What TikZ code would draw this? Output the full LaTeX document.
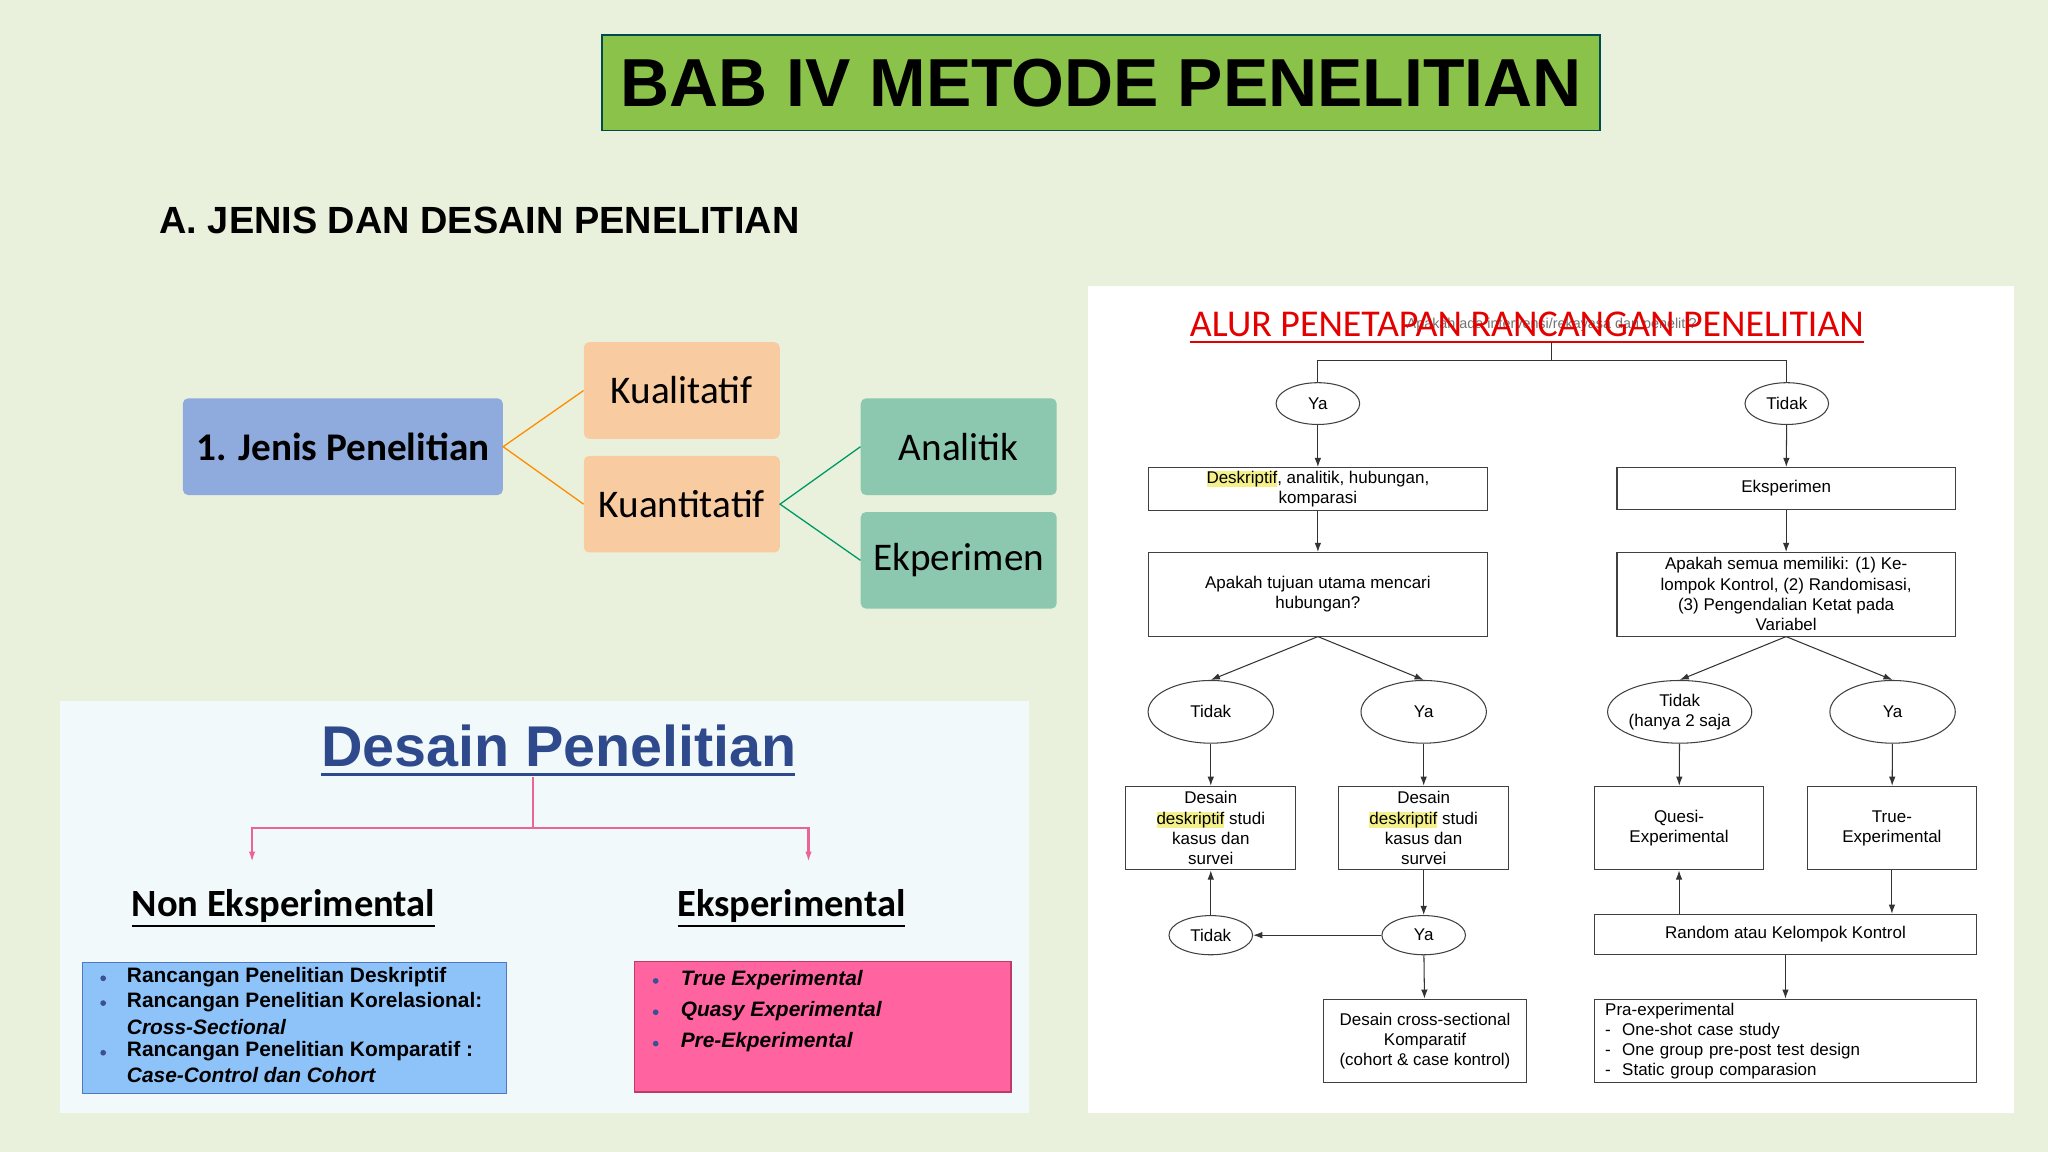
\documentclass[tikz,border=0pt]{standalone}
\usepackage{fontspec}
\setmainfont{Liberation Sans}
\newfontfamily\calib{Carlito}
\usetikzlibrary{arrows.meta,shapes.geometric}
\definecolor{bg}{HTML}{E9F1DC}
\definecolor{hly}{HTML}{F4F08A}
\definecolor{ttlg}{RGB}{139,195,74}
\definecolor{jpc}{RGB}{143,170,220}
\definecolor{orc}{RGB}{248,203,160}
\definecolor{grc}{RGB}{140,200,176}
\definecolor{dpbg}{RGB}{242,249,250}
\definecolor{navy}{RGB}{46,74,140}
\definecolor{pinkl}{RGB}{235,100,150}
\definecolor{bbd}{RGB}{80,120,190}
\definecolor{bbf}{RGB}{142,195,249}
\definecolor{pbd}{RGB}{190,60,100}
\definecolor{pbf}{RGB}{255,100,160}
\definecolor{bul}{RGB}{60,80,150}
\newcommand{\hly}[1]{{\setlength{\fboxsep}{0pt}\colorbox{hly}{#1}}}
\tikzset{
 fbox/.style={draw=black!75, line width=0.8pt, fill=white, align=center, font=\fontsize{13}{15.5}\selectfont, inner sep=1pt},
 fell/.style={ellipse, draw=black!75, line width=0.8pt, fill=white, align=center, font=\fontsize{13}{15.5}\selectfont, inner sep=0pt},
 farr/.style={draw=black!80, line width=0.8pt, -{Latex[length=7pt,width=5pt]}},
 fln/.style={draw=black!80, line width=0.8pt},
 cbox/.style={rounded corners=4pt, align=center, inner sep=0pt, font=\calib\fontsize{30}{34}\selectfont},
}
\begin{document}
\begin{tikzpicture}[x=1pt,y=-1pt]
\useasboundingbox (0,0) rectangle (1568,882);
\fill[bg] (0,0) rectangle (1568,882);
% title
\node[draw=teal!60!black, line width=1.2pt, fill=ttlg, minimum width=764pt, minimum height=73pt, font=\bfseries\fontsize{52}{56}\selectfont, inner sep=0pt] (title) at (843,63.5) {BAB IV METODE PENELITIAN};
\node[anchor=west, font=\bfseries\fontsize{29}{32}\selectfont, inner sep=0pt] (sub) at (122,169) {A. JENIS DAN DESAIN PENELITIAN};
% jenis
\node[cbox, fill=jpc, minimum width=245pt, minimum height=74pt, font=\calib\bfseries\fontsize{30}{34}\selectfont] (jp) at (262.5,342) {1. Jenis Penelitian};
\node[cbox, fill=orc, minimum width=150pt, minimum height=74pt] (kl) at (522,299) {Kualitatif};
\node[cbox, fill=orc, minimum width=150pt, minimum height=74pt] (kn) at (522,386) {Kuantitatif};
\node[cbox, fill=grc, minimum width=150pt, minimum height=74pt] (an) at (734,342) {Analitik};
\node[cbox, fill=grc, minimum width=150pt, minimum height=74pt] (ek) at (734,429) {Ekperimen};
\draw[orange!90!yellow, line width=1pt] (kl.west) -- (jp.east) -- (kn.west);
\draw[teal!80!green, line width=1pt] (an.west) -- (kn.east) -- (ek.west);
% desain panel
\fill[dpbg] (46,537) rectangle (788,852);
\node[font=\bfseries\fontsize{44}{48}\selectfont, text=navy, inner sep=1pt] (dp) at (428,571) {Desain Penelitian};
\draw[navy, line width=2.5pt] (246,593) -- (609,593);
\coordinate (dpa) at (408,595);
\coordinate (dpb) at (408,634);
\coordinate (dpl) at (193,634);
\coordinate (dpr) at (619,634);
\coordinate (dpl2) at (193,660);
\coordinate (dpr2) at (619,660);
\draw[pinkl, line width=2pt] (dpa) -- (dpb);
\draw[pinkl, line width=2pt, -{Latex[length=8pt,width=5pt]}] (dpb) -- (dpl) -- (dpl2);
\draw[pinkl, line width=2pt, -{Latex[length=8pt,width=5pt]}] (dpb) -- (dpr) -- (dpr2);
\node[font=\calib\bfseries\fontsize{29.5}{32}\selectfont, inner sep=1pt] (ne) at (217,694) {Non Eksperimental};
\draw[line width=1.5pt] (101,709) -- (333,709);
\node[font=\calib\bfseries\fontsize{29.5}{32}\selectfont, inner sep=1pt] (ex) at (606,694) {Eksperimental};
\draw[line width=1.5pt] (519,709) -- (693,709);
\node[draw=bbd, line width=1pt, fill=bbf, minimum width=325pt, minimum height=100pt] (bb) at (225.5,787) {};
\node[draw=pbd, line width=1pt, fill=pbf, minimum width=288pt, minimum height=100pt] (pb) at (630,786) {};
\begin{scope}[every node/.style={anchor=west, font=\bfseries\fontsize{16}{18}\selectfont, inner sep=0pt}]
\node (b1) at (97,748) {Rancangan Penelitian Deskriptif};
\node (b2) at (97,767) {Rancangan Penelitian Korelasional:};
\node (b3) at (97,786) {\itshape Cross-Sectional};
\node (b4) at (97,805) {Rancangan Penelitian Komparatif :};
\node (b5) at (97,823) {\itshape Case-Control dan Cohort};
\node (p1) at (521,750) {\itshape True Experimental};
\node (p2) at (521,774) {\itshape Quasy Experimental};
\node (p3) at (521,798) {\itshape Pre-Ekperimental};
\end{scope}
\foreach \y in {749,768,806}{\fill[bul] (79,\y) circle (2.2pt);}
\foreach \y in {751,775,799}{\fill[bul] (502,\y) circle (2.2pt);}
% flow panel
\fill[white] (833,219) rectangle (1542,852);
\node[font=\fontsize{11}{13}\selectfont, text=black!55] (q0) at (1188,249) {Apakah ada intervensi/rekayasa dari peneliti?};
\node[font=\calib\fontsize{29}{32}\selectfont, text=red!90!black, inner sep=1pt] (at) at (1169,248) {ALUR PENETAPAN RANCANGAN PENELITIAN};
\draw[red!90!black, line width=1.5pt] (911,262) -- (1427,262);
\coordinate (c0) at (1188,262);
\coordinate (c1) at (1188,276);
\coordinate (cl) at (1009,276);
\coordinate (cr) at (1368,276);
\node[fell, minimum width=64pt, minimum height=32pt] (ya1) at (1009,309) {Ya};
\node[fell, minimum width=64pt, minimum height=32pt] (td1) at (1368,309) {Tidak};
\draw[fln] (c0) -- (c1);
\draw[fln] (cl) -- (cr);
\draw[fln] (cl) -- (ya1.north);
\draw[fln] (cr) -- (td1.north);
\node[fbox, minimum width=260pt, minimum height=33pt] (d1) at (1009,374.5) {\hly{Deskriptif}, analitik, hubungan,\\komparasi};
\node[fbox, minimum width=259pt, minimum height=32pt] (e1) at (1367.5,374) {Eksperimen};
\node[fbox, minimum width=260pt, minimum height=64pt] (d2) at (1009,455) {Apakah tujuan utama mencari\\hubungan?};
\node[fbox, minimum width=259pt, minimum height=64pt] (e2) at (1367.5,455) {Apakah semua memiliki: (1) Ke-\\lompok Kontrol, (2) Randomisasi,\\(3) Pengendalian Ketat pada\\Variabel};
\draw[farr] (ya1) -- (d1);
\draw[farr] (td1) -- (e1);
\draw[farr] (d1) -- (d2);
\draw[farr] (e1) -- (e2);
\node[fell, minimum width=96pt, minimum height=48pt] (td2) at (927,545) {Tidak};
\node[fell, minimum width=96pt, minimum height=48pt] (ya2) at (1090,545) {Ya};
\node[fell, minimum width=96pt, minimum height=48pt] (td3) at (1286,545) {Tidak\\(hanya 2 saja};
\node[fell, minimum width=96pt, minimum height=48pt] (ya3) at (1449,545) {Ya};
\draw[farr] (d2.south) -- (td2.north);
\draw[farr] (d2.south) -- (ya2.north);
\draw[farr] (e2.south) -- (td3.north);
\draw[farr] (e2.south) -- (ya3.north);
\node[fbox, minimum width=130pt, minimum height=64pt] (l1) at (927,634) {Desain\\\hly{deskriptif} studi\\kasus dan\\survei};
\node[fbox, minimum width=130pt, minimum height=64pt] (l2) at (1090,634) {Desain\\\hly{deskriptif} studi\\kasus dan\\survei};
\node[fbox, minimum width=129pt, minimum height=64pt] (r1) at (1285.5,634) {Quesi-\\Experimental};
\node[fbox, minimum width=129pt, minimum height=64pt] (r2) at (1448.5,634) {True-\\Experimental};
\draw[farr] (td2) -- (l1);
\draw[farr] (ya2) -- (l2);
\draw[farr] (td3) -- (r1);
\draw[farr] (ya3) -- (r2);
\node[fell, minimum width=64pt, minimum height=30pt] (td4) at (927,716) {Tidak};
\node[fell, minimum width=64pt, minimum height=30pt] (ya4) at (1090,716) {Ya};
\node[fbox, minimum width=292pt, minimum height=31pt] (rk) at (1367,715.5) {Random atau Kelompok Kontrol};
\draw[farr] (l2) -- (ya4);
\draw[farr] (ya4) -- (td4);
\draw[farr] (td4) -- (l1);
\draw[farr] (rk.north -| r1) -- (r1.south);
\draw[farr] (r2.south) -- (rk.north -| r2);
\node[fbox, minimum width=156pt, minimum height=64pt] (cs) at (1091,797) {Desain cross-sectional\\Komparatif\\(cohort \& case kontrol)};
\node[fbox, minimum width=292pt, minimum height=64pt, align=left, text width=276pt] (pre) at (1367,797) {Pra-experimental\\ - \ One-shot case study\\ - \ One group pre-post test design\\ - \ Static group comparasion};
\draw[farr] (ya4) -- (cs);
\draw[farr] (rk) -- (pre);
\end{tikzpicture}
\end{document}
